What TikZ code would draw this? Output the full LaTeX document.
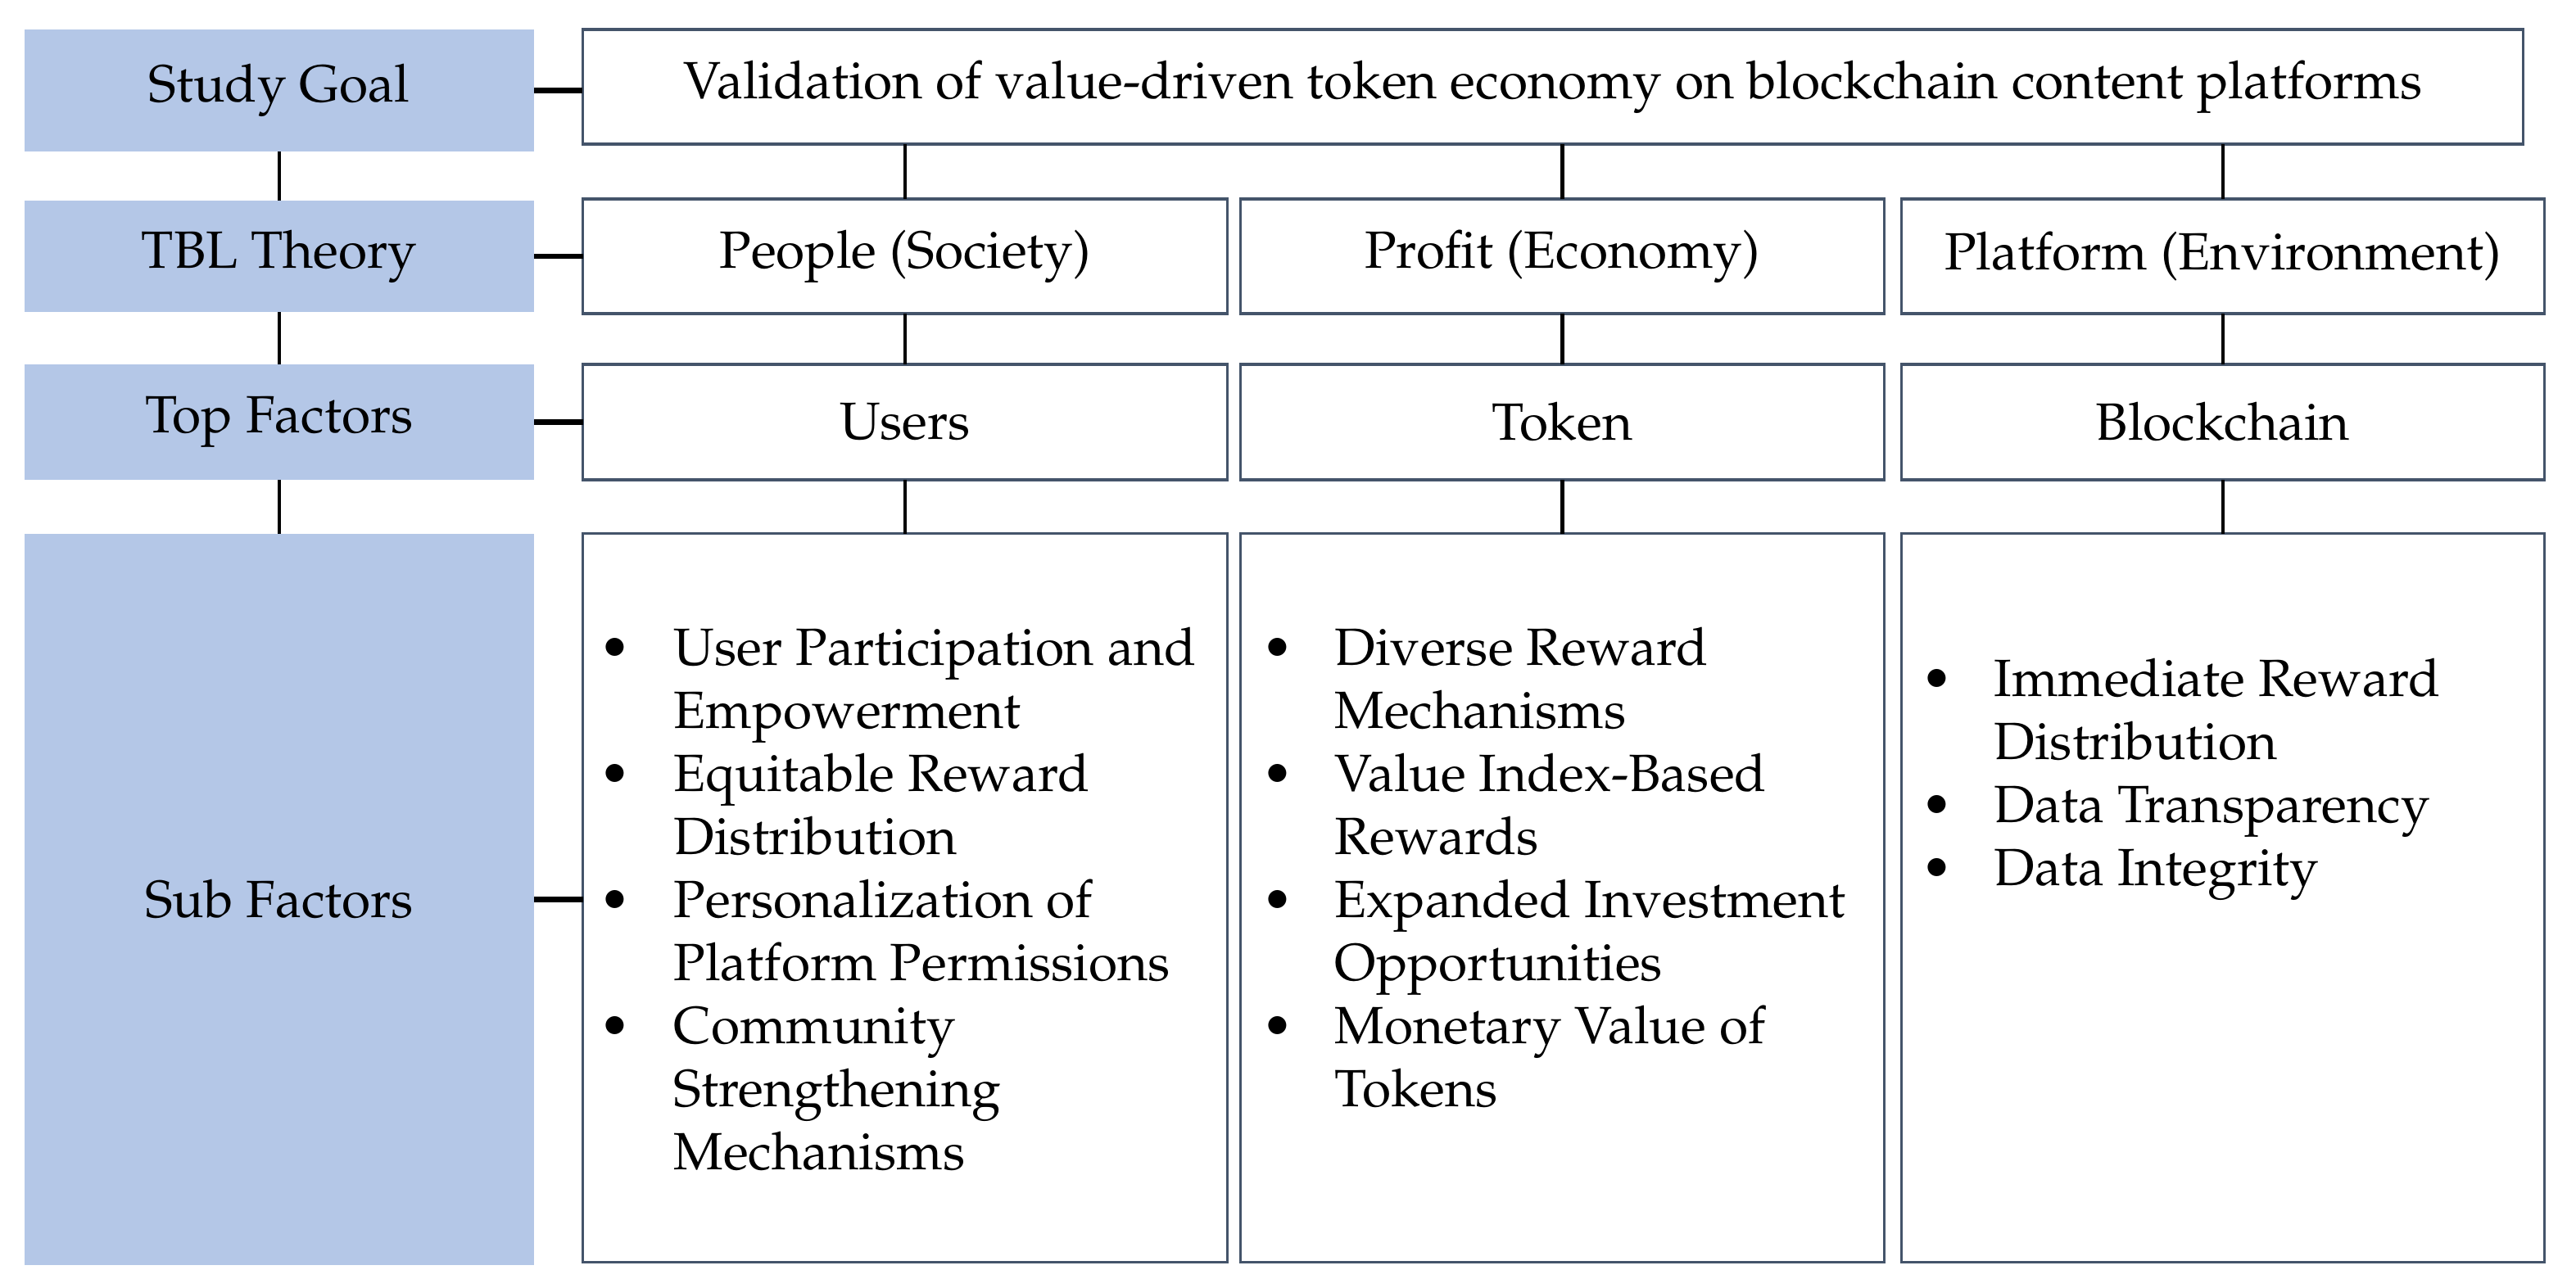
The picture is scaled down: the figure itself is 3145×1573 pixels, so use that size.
\documentclass[tikz,border=0pt]{standalone}
\usepackage[T1]{fontenc}
\usepackage{mathpazo}
\definecolor{bluefill}{HTML}{B4C7E7}
\definecolor{boxline}{HTML}{44546A}
\begin{document}
\begin{tikzpicture}[x=0.01cm,y=-0.01cm,
  font=\fontsize{18.2}{21.9}\selectfont,
  labbox/.style={fill=bluefill, inner sep=0pt, outer sep=0pt, minimum width=6.22cm},
  wbox/.style={draw=boxline, line width=0.9pt, fill=white, inner sep=0pt, outer sep=0pt},
  itemtxt/.style={anchor=base west, inner sep=0pt},
  hconn/.style={line width=1.8pt, black},
  vconn/.style={line width=1.4pt, black}]
\useasboundingbox (0,0) rectangle (3145,1573);

% left label column
\node[labbox, minimum height=1.49cm] (sg) at (341,110.5) {Study Goal};
\node[labbox, minimum height=1.36cm] (tbl) at (341,313) {TBL Theory};
\node[labbox, minimum height=1.41cm] (tf) at (341,515.5) {Top Factors};
\node[labbox, minimum height=8.93cm] (sf) at (341,1098.5) {Sub Factors};

% white boxes
\node[wbox, minimum width=23.68cm, minimum height=1.40cm] (val) at (1896,106) {Validation of value-driven token economy on blockchain content platforms};

\node[wbox, minimum width=7.86cm, minimum height=1.40cm] (p1) at (1105,313) {People (Society)};
\node[wbox, minimum width=7.85cm, minimum height=1.40cm] (p2) at (1907.5,313) {Profit (Economy)};
\node[wbox, minimum width=7.84cm, minimum height=1.40cm] (p3) at (2714,313) {Platform (Environment)};

\node[wbox, minimum width=7.86cm, minimum height=1.41cm] (t1) at (1105,515.5) {Users};
\node[wbox, minimum width=7.85cm, minimum height=1.41cm] (t2) at (1907.5,515.5) {Token};
\node[wbox, minimum width=7.84cm, minimum height=1.41cm] (t3) at (2714,515.5) {Blockchain};

\node[wbox, minimum width=7.86cm, minimum height=8.89cm] (s1) at (1105,1096.5) {};
\node[wbox, minimum width=7.85cm, minimum height=8.89cm] (s2) at (1907.5,1096.5) {};
\node[wbox, minimum width=7.84cm, minimum height=8.89cm] (s3) at (2714,1096.5) {};

% connectors
\draw[vconn] (sg.south) -- (tbl.north);
\draw[vconn] (tbl.south) -- (tf.north);
\draw[vconn] (tf.south) -- (sf.north);
\draw[hconn] (sg.east) -- (sg.east -| val.west);
\draw[hconn] (tbl.east) -- (p1.west);
\draw[hconn] (tf.east) -- (t1.west);
\draw[hconn] (sf.east) -- (sf.east -| s1.west);
\foreach \c in {1,2,3}{
  \draw[vconn] (val.south -| p\c.north) -- (p\c.north);
  \draw[vconn] (p\c.south) -- (t\c.north);
  \draw[vconn] (t\c.south) -- (s\c.north);
}

% bullet lists
\foreach \b/\t [count=\i] in {1/User Participation and, 0/Empowerment, 1/Equitable Reward, 0/Distribution, 1/Personalization of, 0/Platform Permissions, 1/Community, 0/Strengthening, 0/Mechanisms}{
  \node[itemtxt] (a\i) at (822,812+77*\i-77) {\t};
  \ifnum\b=1 \node[itemtxt] (ab\i) at (731,812+77*\i-77) {\textbullet};\fi
}
\foreach \b/\t [count=\i] in {1/Diverse Reward, 0/Mechanisms, 1/Value Index-Based, 0/Rewards, 1/Expanded Investment, 0/Opportunities, 1/Monetary Value of, 0/Tokens}{
  \node[itemtxt] (m\i) at (1629,812+77*\i-77) {\t};
  \ifnum\b=1 \node[itemtxt] (mb\i) at (1540,812+77*\i-77) {\textbullet};\fi
}
\foreach \b/\t [count=\i] in {1/Immediate Reward, 0/Distribution, 1/Data Transparency, 1/Data Integrity}{
  \node[itemtxt] (r\i) at (2434,850+77*\i-77) {\t};
  \ifnum\b=1 \node[itemtxt] (rb\i) at (2345,850+77*\i-77) {\textbullet};\fi
}
\end{tikzpicture}
\end{document}
